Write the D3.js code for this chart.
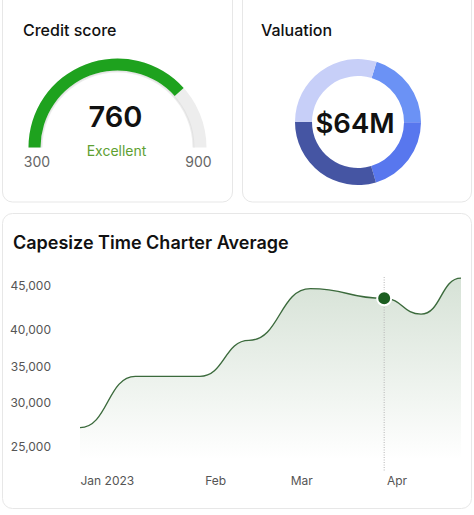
<!DOCTYPE html>
<html>
<head>
<meta charset="utf-8">
<script src="https://cdn.jsdelivr.net/npm/d3@7"></script>
<style>
  html, body { margin: 0; padding: 0; background: #fff; }
  svg { display: block; font-family: Inter, "Noto Sans", sans-serif; }
</style>
</head>
<body>
<script>
// credit score gauge
const scoreMin = 300;
const scoreMax = 900;
const creditScore = 760;
const creditRating = "Excellent";

// valuation donut ($M)
const valuationParts = [13, 13, 19, 19];
const valuationColors = ["#6b92f5", "#5877ee", "#4555a3", "#c7cff8"];
const valuationLabel = "$64M";

// capesize time charter average
const charterDates = ["2022-12-19", "2023-01-06", "2023-01-27", "2023-02-12", "2023-03-04", "2023-03-28", "2023-04-09", "2023-04-22"];
const charterValues = [27200, 33700, 33700, 38600, 44700, 43600, 41800, 45900];
const highlightDate = "2023-03-28";
const yTicks = [25000, 30000, 35000, 40000, 45000];
const xTicks = ["2023-01-01", "2023-02-01", "2023-03-01", "2023-04-01"];
const xTickLabels = ["Jan 2023", "Feb", "Mar", "Apr"];

const W = 474, H = 515;
const parse = d3.timeParse("%Y-%m-%d");

const svg = d3.select("body").append("svg")
  .attr("width", W)
  .attr("height", H);

// cards
const cards = [
  {x: 2.5, y: -10, w: 230, h: 212},
  {x: 242.5, y: -10, w: 229, h: 212},
  {x: 2.5, y: 213.5, w: 469, h: 295}
];
svg.selectAll("rect.card")
  .data(cards)
  .join("rect")
  .attr("class", "card")
  .attr("x", d => d.x).attr("y", d => d.y)
  .attr("width", d => d.w).attr("height", d => d.h)
  .attr("rx", 10)
  .attr("fill", "#fff")
  .attr("stroke", "#e7e7e7");

// ---- gauge ----
svg.append("text")
  .attr("x", 23).attr("y", 36)
  .attr("font-size", 16).attr("font-weight", 500).attr("fill", "#111")
  .text("Credit score");

const g1 = svg.append("g").attr("transform", "translate(117.5,147.5)");
const angle = d3.scaleLinear().domain([scoreMin, scoreMax]).range([-Math.PI / 2, Math.PI / 2]);

g1.append("path")
  .attr("d", d3.arc().innerRadius(75).outerRadius(89)
    .startAngle(angle(scoreMin)).endAngle(angle(scoreMax))())
  .attr("fill", "#ededed");
g1.append("path")
  .attr("d", d3.arc().innerRadius(76).outerRadius(77)
    .startAngle(angle(scoreMin)).endAngle(angle(scoreMax))())
  .attr("fill", "#e2e2e2");
g1.append("path")
  .attr("d", d3.arc().innerRadius(77).outerRadius(89)
    .startAngle(angle(scoreMin)).endAngle(angle(creditScore))())
  .attr("fill", "#1ea21e");

g1.append("text")
  .attr("x", -2).attr("y", -21)
  .attr("text-anchor", "middle")
  .attr("font-size", 29).attr("font-weight", 600).attr("fill", "#111")
  .text(creditScore);
g1.append("text")
  .attr("x", -1).attr("y", 8)
  .attr("text-anchor", "middle")
  .attr("font-size", 14).attr("fill", "#5ea032")
  .text(creditRating);
g1.append("text")
  .attr("x", -80.5).attr("y", 19)
  .attr("text-anchor", "middle")
  .attr("font-size", 14).attr("fill", "#666")
  .text(scoreMin);
g1.append("text")
  .attr("x", 81).attr("y", 19)
  .attr("text-anchor", "middle")
  .attr("font-size", 14).attr("fill", "#666")
  .text(scoreMax);

// ---- donut ----
svg.append("text")
  .attr("x", 261).attr("y", 36)
  .attr("font-size", 16).attr("font-weight", 500).attr("fill", "#111")
  .text("Valuation");

const g2 = svg.append("g").attr("transform", "translate(358,122)");
const pie = d3.pie().sort(null)
  .startAngle(0.3).endAngle(0.3 + 2 * Math.PI);
const donutArc = d3.arc().innerRadius(46).outerRadius(63);
g2.selectAll("path")
  .data(pie(valuationParts))
  .join("path")
  .attr("d", donutArc)
  .attr("fill", (d, i) => valuationColors[i]);
g2.append("text")
  .attr("x", -3).attr("y", 10.5)
  .attr("text-anchor", "middle")
  .attr("font-size", 27.5).attr("font-weight", 600).attr("fill", "#111")
  .text(valuationLabel);

// ---- line chart ----
svg.append("text")
  .attr("x", 13).attr("y", 249)
  .attr("font-size", 18).attr("font-weight", 600).attr("fill", "#111")
  .text("Capesize Time Charter Average");

const data = charterDates.map((d, i) => ({date: parse(d), value: charterValues[i]}));

const x = d3.scaleTime()
  .domain(d3.extent(data, d => d.date))
  .range([80, 461]);
const y = d3.scaleLinear()
  .domain(yTicks)
  .range([447, 403, 367, 330, 286]);

const defs = svg.append("defs");
const grad = defs.append("linearGradient")
  .attr("id", "fillGrad")
  .attr("gradientUnits", "userSpaceOnUse")
  .attr("x1", 0).attr("y1", 275).attr("x2", 0).attr("y2", 460);
grad.append("stop").attr("offset", "0%").attr("stop-color", "#2f6b2f").attr("stop-opacity", 0.2);
grad.append("stop").attr("offset", "100%").attr("stop-color", "#2f6b2f").attr("stop-opacity", 0);

const area = d3.area()
  .x(d => x(d.date))
  .y0(460)
  .y1(d => y(d.value))
  .curve(d3.curveBumpX);
const line = d3.line()
  .x(d => x(d.date))
  .y(d => y(d.value))
  .curve(d3.curveBumpX);

svg.append("path")
  .datum(data)
  .attr("d", area)
  .attr("fill", "url(#fillGrad)");

// highlight rule
const hi = data.find(d => +d.date === +parse(highlightDate));
svg.append("line")
  .attr("x1", x(hi.date)).attr("x2", x(hi.date))
  .attr("y1", 277).attr("y2", 472)
  .attr("stroke", "#b5b5b5")
  .attr("stroke-width", 1)
  .attr("stroke-dasharray", "1,1.5");

svg.append("path")
  .datum(data)
  .attr("d", line)
  .attr("fill", "none")
  .attr("stroke", "#3b6a3c")
  .attr("stroke-width", 1.4);

svg.append("circle")
  .attr("cx", x(hi.date)).attr("cy", y(hi.value))
  .attr("r", 7)
  .attr("fill", "#1c5e21")
  .attr("stroke", "#fff")
  .attr("stroke-width", 2);

// y axis
const yAxis = svg.append("g")
  .attr("transform", "translate(51,0)")
  .call(d3.axisLeft(y).tickValues(yTicks).tickSize(0).tickPadding(0)
    .tickFormat(d3.format(",")));
yAxis.select(".domain").remove();
yAxis.selectAll("text")
  .attr("font-family", "Inter, sans-serif")
  .attr("font-size", 12)
  .attr("fill", "#555");

// x axis
const xAxis = svg.append("g")
  .attr("transform", "translate(0,472)")
  .call(d3.axisBottom(x).tickValues(xTicks.map(parse)).tickSize(0).tickPadding(4.5)
    .tickFormat((d, i) => xTickLabels[i]));
xAxis.select(".domain").remove();
xAxis.selectAll("text")
  .attr("font-family", "Inter, sans-serif")
  .attr("font-size", 12)
  .attr("fill", "#555");
// first label clamped to left edge of the plot
xAxis.selectAll("text").filter((d, i) => i === 0)
  .attr("text-anchor", "start")
  .attr("x", x.range()[0] - x(parse(xTicks[0])));
</script>
</body>
</html>
